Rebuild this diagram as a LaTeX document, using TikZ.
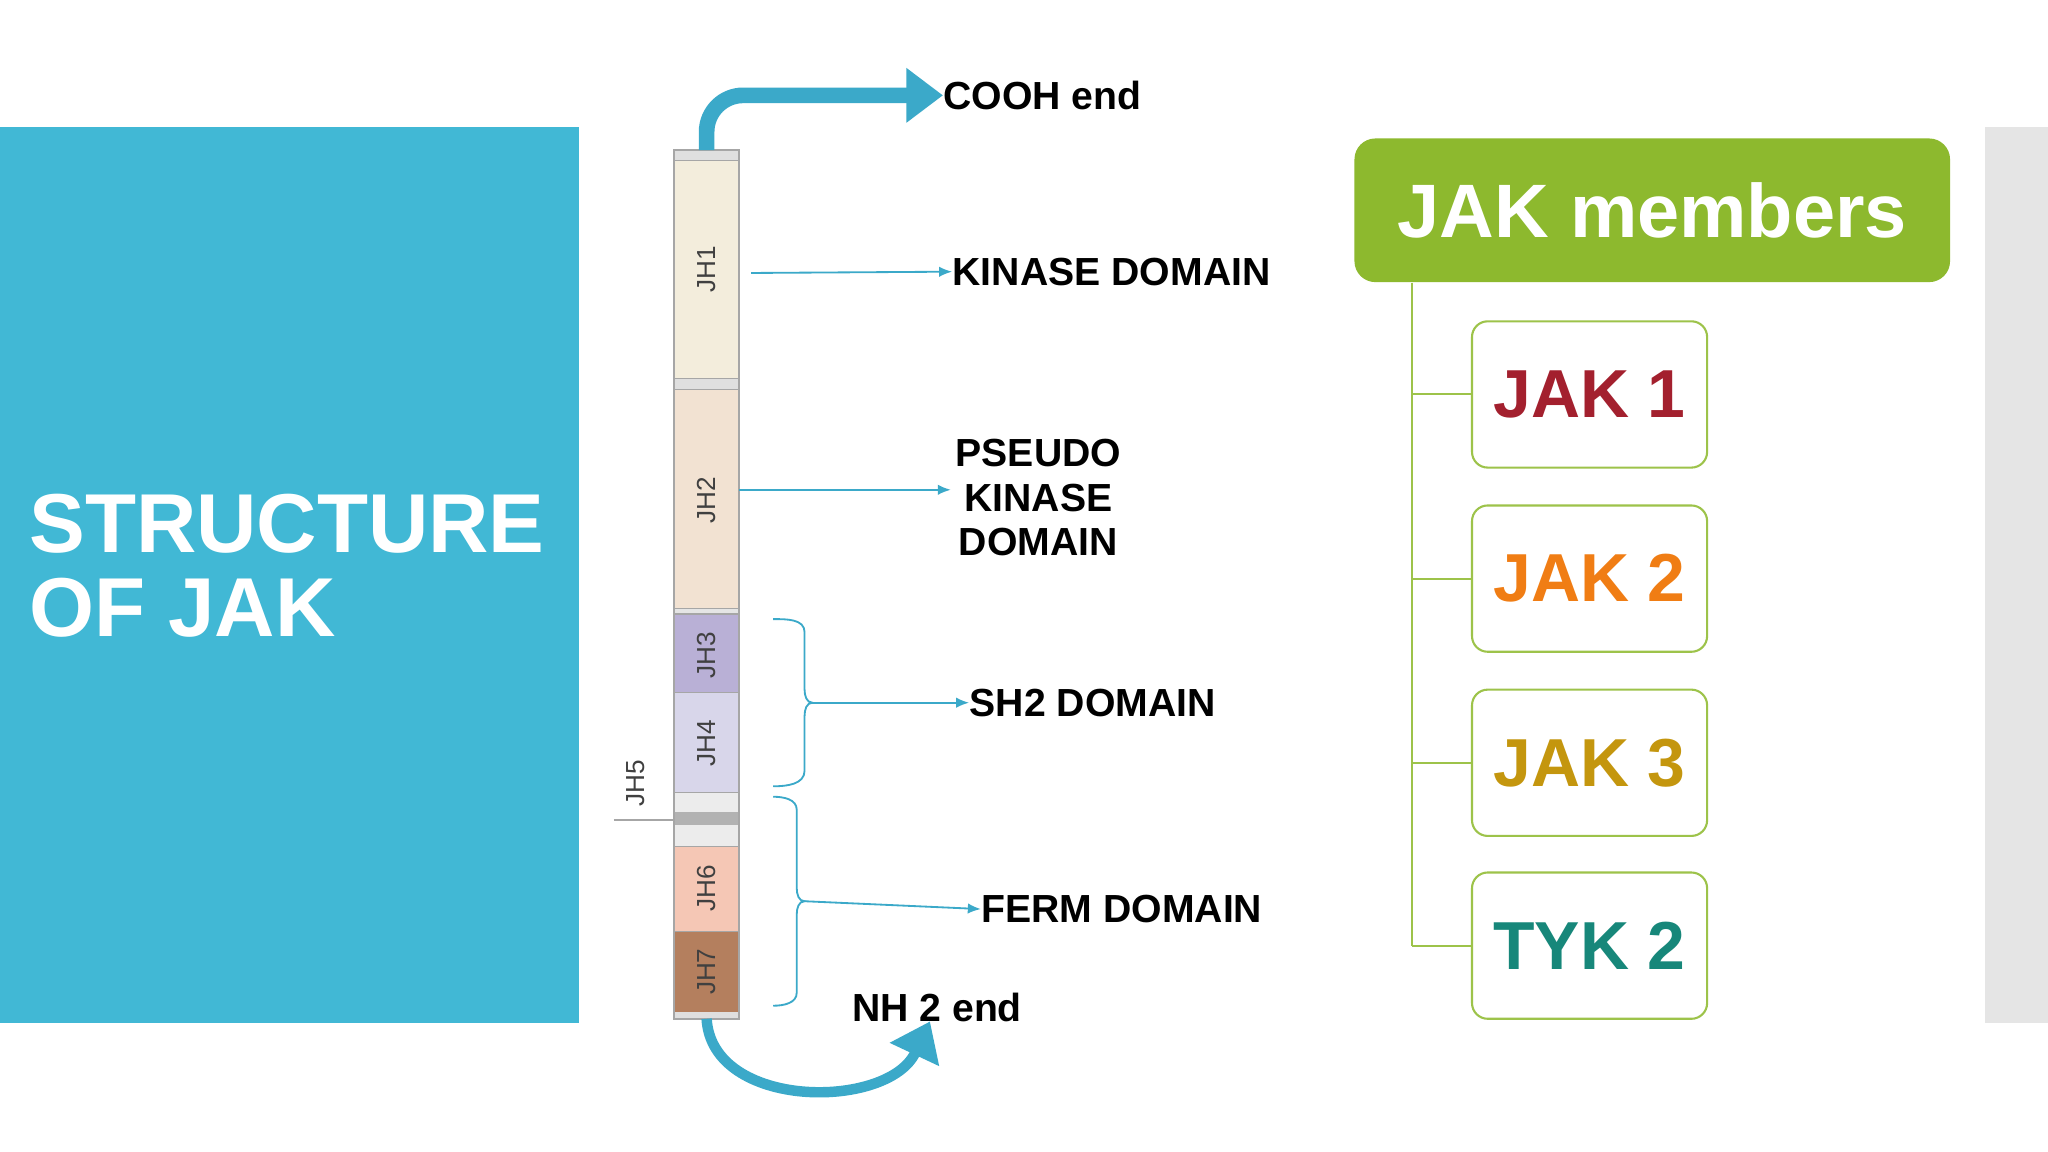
\documentclass[tikz,border=0pt]{standalone}
\usepackage{fontspec}
\setmainfont{Liberation Sans}
\usetikzlibrary{arrows.meta,decorations.pathreplacing}
\definecolor{panel}{HTML}{41B8D5}
\definecolor{arr}{HTML}{3BA9C9}
\definecolor{gbox}{HTML}{8DB92E}
\definecolor{gline}{HTML}{9DC34A}
\tikzset{
 lab/.style={font=\bfseries\fontsize{15}{17}\selectfont,anchor=west,inner sep=0},
 seg/.style={draw=gray!70,line width=0.5pt},
 jh/.style={rotate=90,font=\fontsize{10}{12}\selectfont,text=black!75},
 thin/.style={draw=arr,line width=0.7pt,-{Latex[length=5pt,width=4pt]}},
 mem/.style={draw=gline,line width=0.8pt,rounded corners=6pt,minimum width=90pt,minimum height=56pt,font=\bfseries\fontsize{26}{30}\selectfont}
}
\begin{document}
\begin{tikzpicture}[x=0.5pt,y=-0.5pt]
\useasboundingbox (0,0) rectangle (1568,882);
\fill[white] (0,0) rectangle (1568,882);
\fill[panel] (0,97) rectangle (443,783);
\fill[gray!20] (1520,97) rectangle (1568,783);
\node[anchor=north west,align=left,text=white,font=\bfseries\fontsize{32}{32}\selectfont,inner sep=0] (title) at (22,378) {STRUCTURE\\OF JAK};
% column
\fill[gray!25] (516,115) rectangle (566,123);
\fill[seg,fill={rgb,255:red,243;green,237;blue,220}] (516,123) rectangle (566,290);
\fill[gray!25] (516,290) rectangle (566,298);
\fill[seg,fill={rgb,255:red,242;green,226;blue,210}] (516,298) rectangle (566,466);
\fill[gray!20] (516,466) rectangle (566,470);
\fill[seg,fill={rgb,255:red,185;green,176;blue,214}] (516,470) rectangle (566,530);
\fill[seg,fill={rgb,255:red,216;green,214;blue,234}] (516,530) rectangle (566,607);
\fill[gray!15] (516,607) rectangle (566,622);
\fill[gray!60] (516,622) rectangle (566,632);
\fill[gray!15] (516,632) rectangle (566,648);
\fill[seg,fill={rgb,255:red,245;green,199;blue,181}] (516,648) rectangle (566,713);
\fill[seg,fill={rgb,255:red,180;green,127;blue,94}] (516,713) rectangle (566,775);
\fill[gray!25] (516,775) rectangle (566,780);
\draw[gray!70,line width=0.6pt] (516,115) rectangle (566,780);
\node[jh] (jh1) at (541,206) {JH1};
\node[jh] (jh2) at (541,383) {JH2};
\node[jh] (jh3) at (541,502) {JH3};
\node[jh] (jh4) at (541,569) {JH4};
\node[jh] (jh6) at (541,680) {JH6};
\node[jh] (jh7) at (541,744) {JH7};
\node[jh] (jh5) at (487,600) {JH5};
\draw[gray!70,line width=0.6pt] (470,628) -- (516,628);
% top arrow
\coordinate (ctop) at (541,115);
\node[lab] (cooh) at (722,73) {COOH end};
\draw[arr,line width=6pt,rounded corners=14pt,-{Triangle[length=14pt,width=20pt]}] (ctop) -- (541,73) -- (cooh.west);
% kinase
\coordinate (k1) at (575,209);
\node[lab] (kin) at (729,208) {KINASE DOMAIN};
\draw[thin] (k1) -- (kin.west);
\coordinate (k2) at (566,375);
\node[lab,anchor=center,align=center] (pk) at (795,381) {PSEUDO\\KINASE\\DOMAIN};
\draw[thin] (k2) -- (728,375);
% braces
\draw[arr,line width=0.7pt] (592,474) to[out=0,in=90] (616,484) -- (616,528) to[out=-90,in=180] (622,538) to[out=180,in=90] (616,548) -- (616,590) to[out=-90,in=0] (592,602);
\node[lab] (sh2) at (742,538) {SH2 DOMAIN};
\draw[thin] (622,538) -- (sh2.west);
\draw[arr,line width=0.7pt] (592,610) to[out=0,in=90] (610,620) -- (610,680) to[out=-90,in=180] (616,690) to[out=180,in=90] (610,700) -- (610,760) to[out=-90,in=0] (592,770);
\node[lab] (ferm) at (751,696) {FERM DOMAIN};
\draw[thin] (616,690) -- (ferm.west);
% bottom arrow
\coordinate (cbot) at (541,780);
\node[lab] (nh) at (652,771) {NH 2 end};
\draw[arr,line width=4pt,-{Triangle[length=14pt,width=20pt]}] (cbot) .. controls (545,850) and (680,850) .. (712,782);
% members
\node[fill=gbox,rounded corners=8pt,minimum width=228pt,minimum height=55pt,text=white,font=\bfseries\fontsize{29}{32}\selectfont] (jm) at (1265,161) {JAK members};
\node[mem,text={rgb,255:red,163;green,32;blue,46}] (j1) at (1217,302) {JAK 1};
\node[mem,text={rgb,255:red,240;green,125;blue,20}] (j2) at (1217,443) {JAK 2};
\node[mem,text={rgb,255:red,196;green,150;blue,14}] (j3) at (1217,584) {JAK 3};
\node[mem,text={rgb,255:red,23;green,135;blue,122}] (t2) at (1217,724) {TYK 2};
\draw[gline,line width=0.8pt] (jm.south -| 1081,0) -- (1081,724);
\foreach \n in {j1,j2,j3,t2} \draw[gline,line width=0.8pt] (\n.west -| 1081,0) -- (\n.west);
\end{tikzpicture}
\end{document}
